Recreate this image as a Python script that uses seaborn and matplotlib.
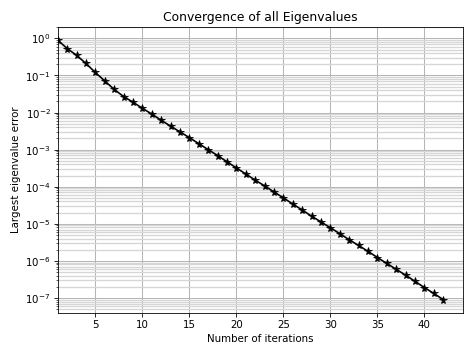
import matplotlib
matplotlib.use('Agg')
import matplotlib.pyplot as plt
import seaborn as sns
import pandas as pd

# largest eigenvalue error per iteration
iterations = list(range(1, 43))
errors = [0.90, 0.53, 0.35, 0.21, 0.12, 0.071, 0.042, 0.027, 0.019, 0.013,
          0.0091, 0.0062, 0.0043, 0.0030, 0.0021, 0.00144, 0.00100, 0.00069, 0.00047, 0.00032,
          0.00022, 0.00015, 0.000105, 7.2e-5, 5.0e-5, 3.4e-5, 2.35e-5, 1.6e-5, 1.12e-5, 7.8e-6,
          5.4e-6, 3.7e-6, 2.6e-6, 1.8e-6, 1.23e-6, 8.5e-7, 5.9e-7, 4.1e-7, 2.8e-7, 1.9e-7,
          1.32e-7, 9.0e-8]

df = pd.DataFrame({'iteration': iterations, 'error': errors})

fig, ax = plt.subplots(figsize=(6.4, 4.8), dpi=74)
sns.lineplot(data=df, x='iteration', y='error', ax=ax, color='black', marker='*',
             markersize=8, markeredgecolor='black', linewidth=1.6)
ax.set_yscale('log')
ax.set_xlim(left=1)

# grid on major and minor ticks, like semilogy + grid(which='both')
ax.grid(True, which='major', color='#b5b5b5', linewidth=1.0)
ax.grid(True, which='minor', axis='y', color='#d6d6d6', linewidth=1.3)

ax.set_xlabel('Number of iterations')
ax.set_ylabel('Largest eigenvalue error')
ax.set_title('Convergence of all Eigenvalues')

plt.tight_layout()
plt.savefig('out.png', dpi=74)
